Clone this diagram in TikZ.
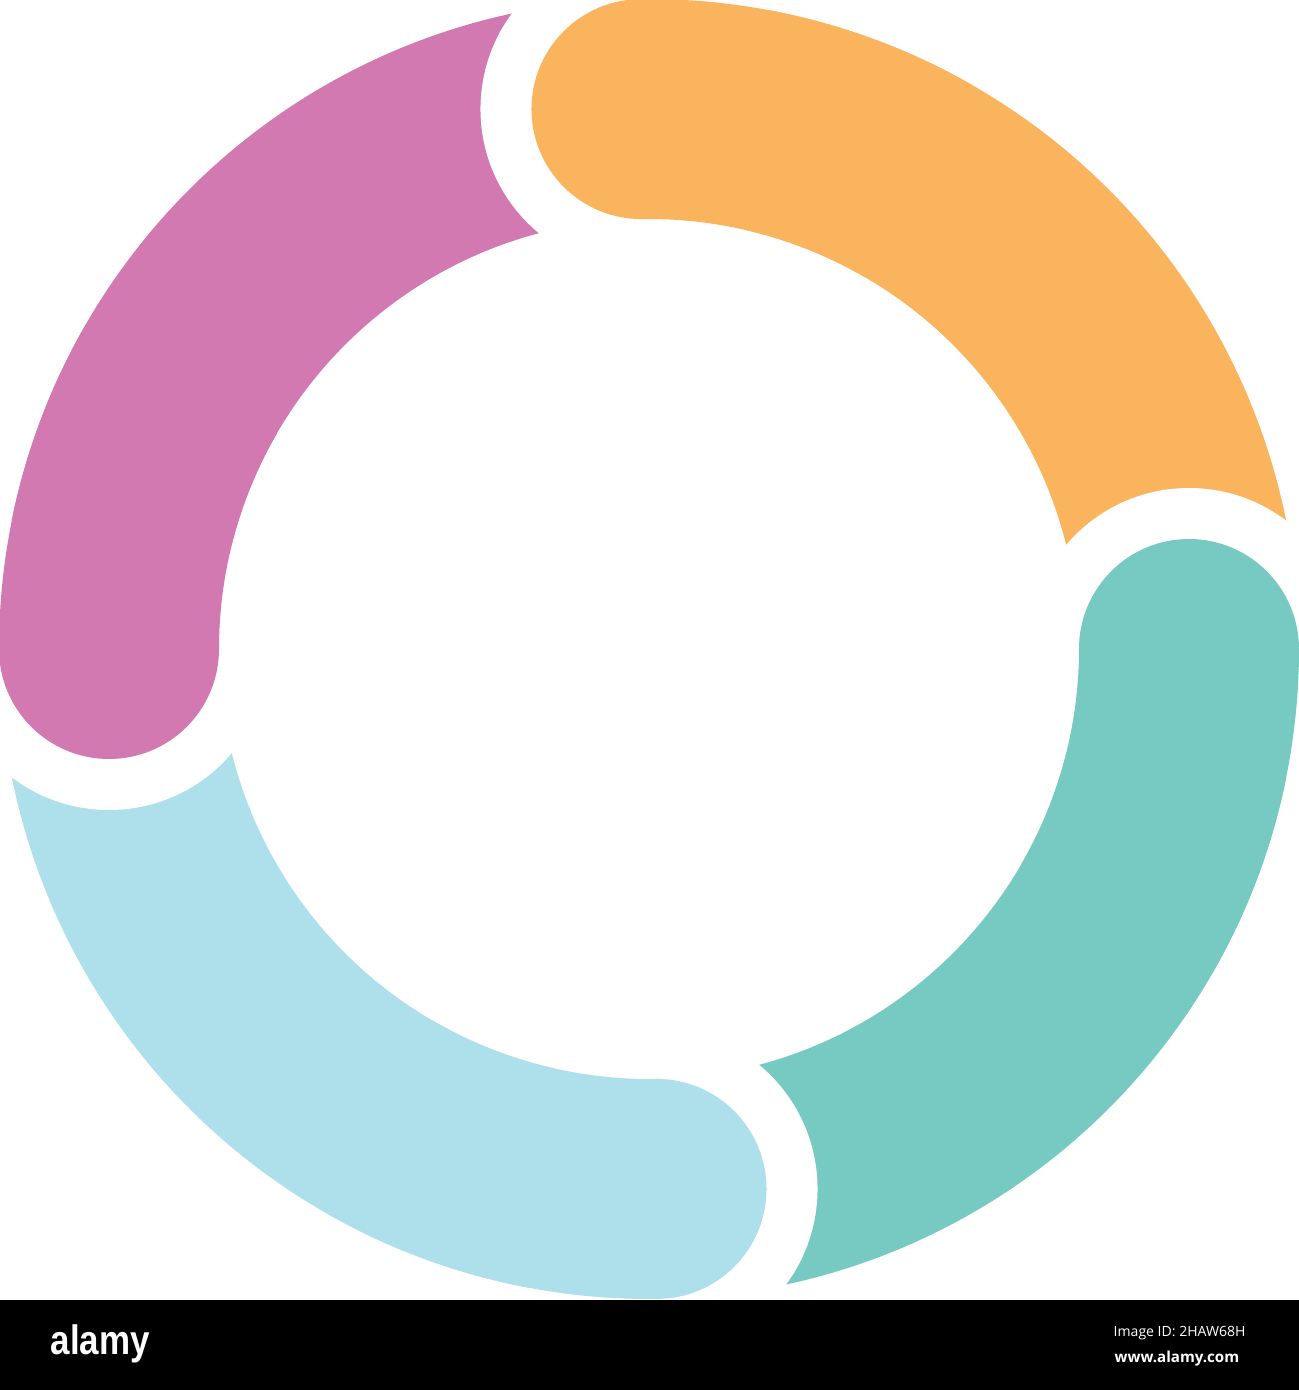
\documentclass[tikz,border=0pt]{standalone}
\usepackage{fontspec}
\setmainfont{Open Sans}
\newfontfamily\logofont{Liberation Sans}
\usetikzlibrary{calc, positioning}

\definecolor{segorange}{HTML}{FBB45E}
\definecolor{segteal}{HTML}{77CAC1}
\definecolor{segblue}{HTML}{AEE0EC}
\definecolor{segpink}{HTML}{D379B1}

\begin{document}
\begin{tikzpicture}[band/.style={line width=2.2cm},
    bartext/.style={text=white, inner sep=0pt, anchor=base west}]
    \useasboundingbox (0,0) rectangle (12.99,13.90);

    % centre of the ring
    \coordinate (O) at (6.49,7.41);
    % radius of the band's middle line
    \def\rmid{5.4}
    % round head and white gap around it
    \def\rcap{1.1}
    \def\rgap{1.61}

    %--- bands, each from its head clockwise to the next head
    % (angle of head / how far the head sticks out / colour)
    \foreach \ang/\dang/\col in {90/0.8/segorange, 0/0/segteal, -90/0.8/segblue, 180/0/segpink}{
        \draw[band, \col] ($(O)+(\ang+\dang:\rmid)$)
            arc[start angle=\ang+\dang, end angle=\ang-90, radius=\rmid];
    }

    %--- heads: cut the gap, then restore the start of the band
    \foreach \ang/\dang/\col in {90/0.8/segorange, 0/0/segteal, -90/0.8/segblue, 180/0/segpink}{
        \coordinate (head) at ($(O)+(\ang+\dang:\rmid)$);
        \fill[white] (head) circle[radius=\rgap];
        \draw[band, \col] (head)
            arc[start angle=\ang+\dang, end angle=\ang-30, radius=\rmid];
        \fill[\col] (head) circle[radius=\rcap];
    }

    %--- black strip at the bottom
    \fill[black] (0,0) rectangle (12.99,0.90);
    \node[bartext, font=\logofont\bfseries\fontsize{11.7}{12}\selectfont]
        (logo) at (0.50,0.35) {\scalebox{0.85}[1]{alamy}};
    \node[bartext, font=\fontsize{4}{5}\selectfont]
        (imgid) at (11.13,0.53) {Image ID: 2HAW68H};
    \node[bartext, font=\bfseries\fontsize{4.3}{5}\selectfont]
        (site) at (11.14,0.28) {www.alamy.com};
\end{tikzpicture}
\end{document}
